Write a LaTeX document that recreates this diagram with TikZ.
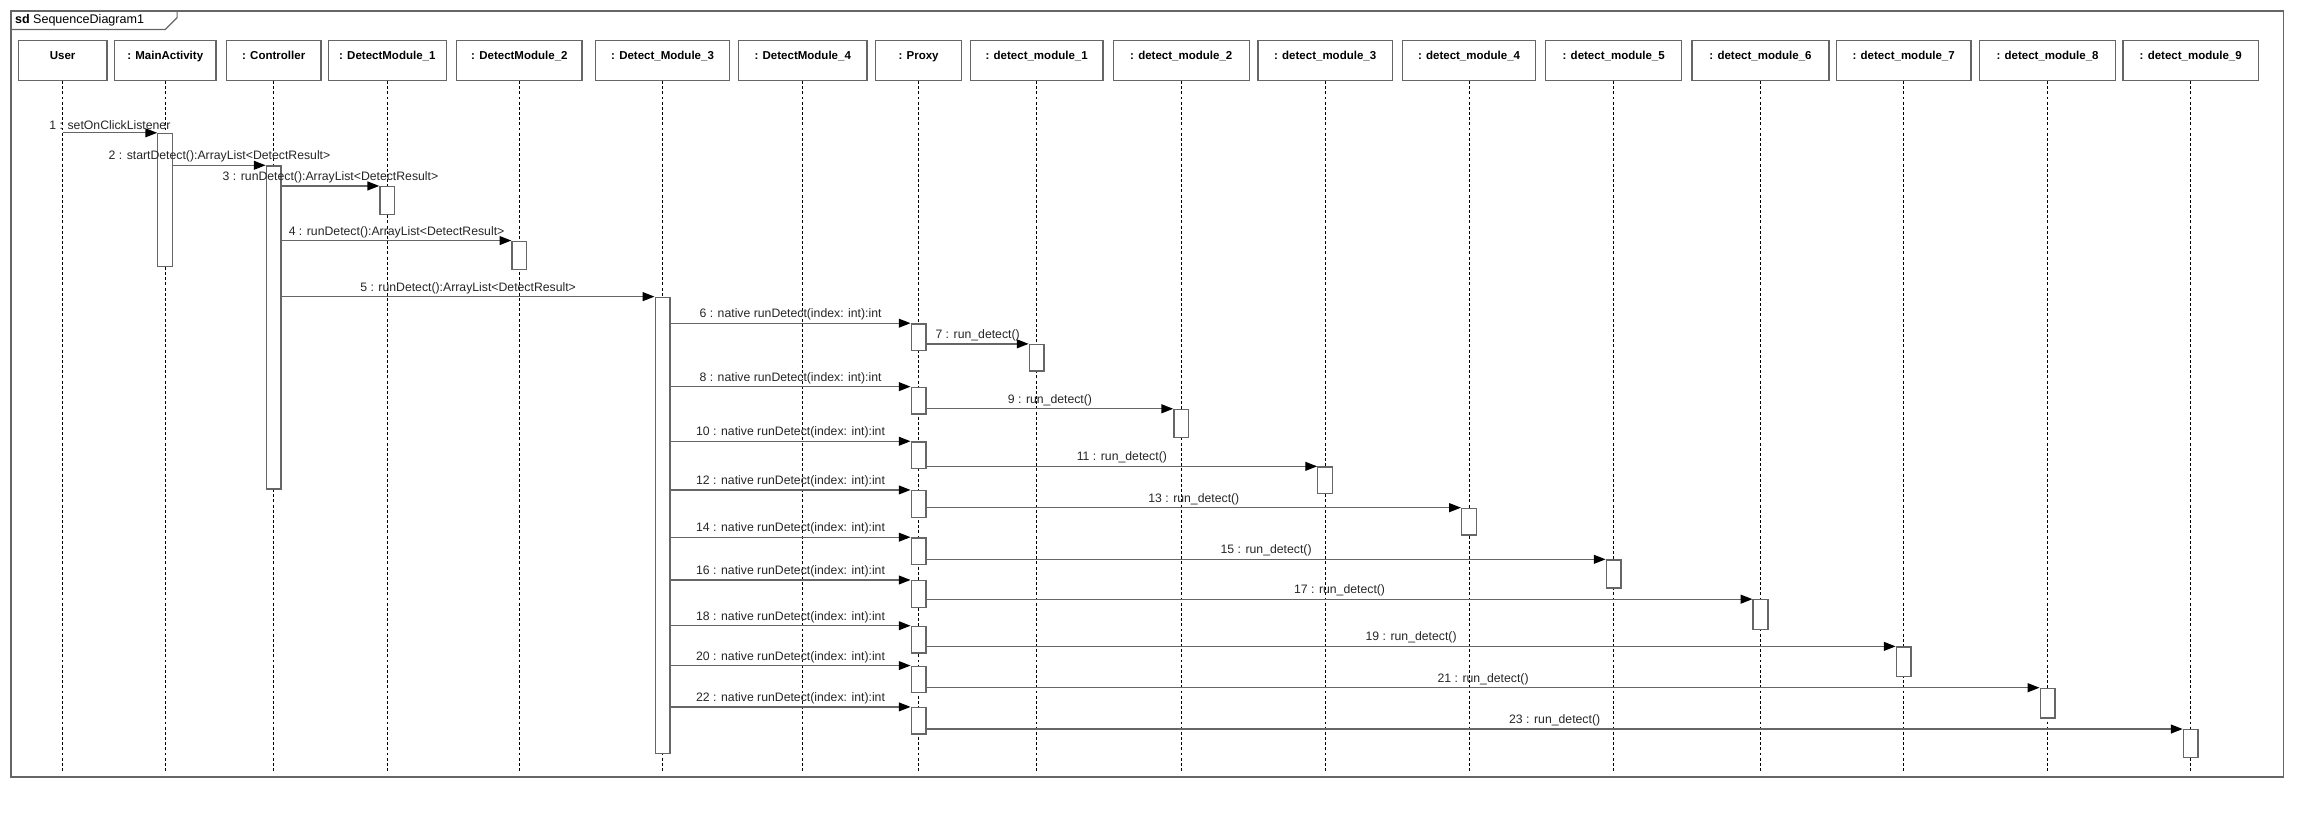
\documentclass[tikz,border=0pt]{standalone}
\usepackage{fontspec}
\setmainfont{Liberation Sans}
\usetikzlibrary{arrows.meta}
\tikzset{
  head/.style={draw=black!60, line width=0.9pt, fill=white, anchor=north west, minimum height=27pt, inner sep=0pt, text depth=7pt, font=\fontsize{7.8}{8}\selectfont\bfseries},
  life/.style={dashed, line width=0.5pt, dash pattern=on 2pt off 1.5pt},
  act/.style={draw=black!60, line width=0.9pt, fill=white, minimum width=10pt, inner sep=0pt, anchor=north},
  msg/.style={draw=black!60, line width=0.9pt, -{Triangle[length=8pt,width=6pt,fill=black,color=black]}},
  lbl/.style={font=\fontsize{8.3}{9}\selectfont, inner sep=1.5pt, text=black!85}
}
\begin{document}
\begin{tikzpicture}[x=1pt,y=-1pt]
\useasboundingbox (0,0) rectangle (1568,554);
\node[draw=black!60, line width=0.9pt, minimum width=1540pt, minimum height=519pt, anchor=north west, inner sep=0pt] (frame) at (7,7) {};
\draw[black!60, line width=0.8pt] (7,20) -- (112,20) -- (120,12) -- (120,7);
\node[anchor=west, font=\fontsize{8.5}{9}\selectfont, inner sep=0pt] (title) at (10,14) {\textbf{sd}\ SequenceDiagram1};
\foreach \n/\lab/\l/\r in {user/User/12/72, main/: MainActivity/77/146, ctrl/: Controller/153/217,
  DA/: DetectModule\_1/222/302, DB/: DetectModule\_2/309/394, DC/: Detect\_Module\_3/403/494,
  DD/: DetectModule\_4/500/587, proxy/: Proxy/593/651,
  m1/: detect\_module\_1/657/747, m2/: detect\_module\_2/754/846, m3/: detect\_module\_3/852/943,
  m4/: detect\_module\_4/950/1040, m5/: detect\_module\_5/1047/1139, m6/: detect\_module\_6/1146/1239,
  m7/: detect\_module\_7/1244/1335, m8/: detect\_module\_8/1341/1433, m9/: detect\_module\_9/1438/1530}{
  \node[head, minimum width={(\r-\l)*1pt}] (\n) at (\l,27) {\lab};
  \draw[life] (\n.south) -- (\n.south |- 0,523);
}
% activations
\node[act, minimum height=90pt] (aMain) at (main.south |- 0,90) {};
\node[act, minimum height=219pt] (aCtrl) at (ctrl.south |- 0,112) {};
\node[act, minimum height=19pt] (aDA) at (DA.south |- 0,126) {};
\node[act, minimum height=19pt] (aDB) at (DB.south |- 0,163) {};
\node[act, minimum height=309pt] (aDC) at (DC.south |- 0,201) {};
\foreach \i/\a/\b/\ta/\tb in {1/219/237/233/251, 2/262/280/277/296, 3/299/317/316/334, 4/332/350/344/362,
  5/364/382/379/398, 6/393/411/406/426, 7/424/442/438/458, 8/451/469/466/486, 9/479/497/494/513}{
  \node[act, minimum height={(\b-\a)*1pt}] (p\i) at (proxy.south |- 0,\a) {};
  \node[act, minimum height={(\tb-\ta)*1pt}] (t\i) at (m\i.south |- 0,\ta) {};
  \pgfmathtruncatemacro{\na}{4+2*\i}
  \pgfmathtruncatemacro{\nb}{5+2*\i}
  \draw[msg] (aDC.east |- 0,\a) -- node[lbl, above] {\na\ : native runDetect(index: int):int} (p\i.west |- 0,\a);
  \draw[msg] (p\i.east |- 0,\ta) -- node[lbl, above] {\nb\ : run\_detect()} (t\i.west |- 0,\ta);
}
\draw[msg] (user.south |- 0,90) -- node[lbl, above] {1 : setOnClickListener} (aMain.west |- 0,90);
\draw[msg] (aMain.east |- 0,112) -- node[lbl, above] {2 : startDetect():ArrayList<DetectResult>} (aCtrl.west |- 0,112);
\draw[msg] (aCtrl.east |- 0,126) -- node[lbl, above] {3 : runDetect():ArrayList<DetectResult>} (aDA.west |- 0,126);
\draw[msg] (aCtrl.east |- 0,163) -- node[lbl, above] {4 : runDetect():ArrayList<DetectResult>} (aDB.west |- 0,163);
\draw[msg] (aCtrl.east |- 0,201) -- node[lbl, above] {5 : runDetect():ArrayList<DetectResult>} (aDC.west |- 0,201);
\end{tikzpicture}
\end{document}
